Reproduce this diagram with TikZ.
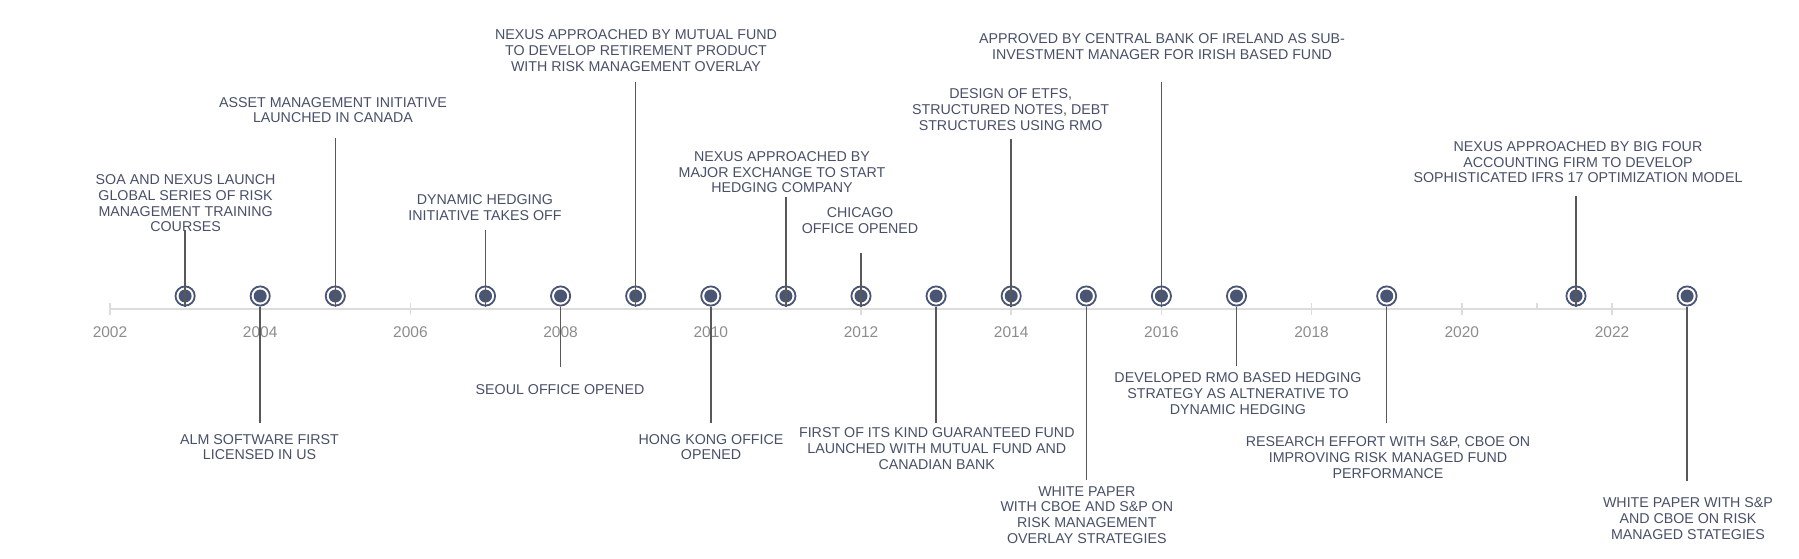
\documentclass[tikz,border=0pt]{standalone}
\usepackage{fontspec}
\setmainfont{Liberation Sans}
\definecolor{navy}{RGB}{74,84,115}
\definecolor{txt}{RGB}{72,80,104}
\definecolor{stemgray}{RGB}{88,88,88}
\definecolor{axisgray}{RGB}{220,220,220}
\definecolor{yrgray}{RGB}{140,140,140}
\begin{document}
\begin{tikzpicture}[x=0.5pt,y=-0.5pt,
  evt/.style={font=\fontsize{7.125}{7.9}\selectfont, text=txt, align=center, inner sep=0pt},
  up/.style={evt, anchor=south},
  down/.style={evt, anchor=north},
  yl/.style={font=\fontsize{7.75}{9}\selectfont, text=yrgray, inner sep=0pt},
  dot/.style={circle, draw=navy, line width=0.9pt, fill=white, minimum size=9.6pt, inner sep=0pt,
    path picture={\fill[navy] (path picture bounding box.center) circle (3.25pt);}},
  stem/.style={draw=stemgray, line width=0.75pt},
  axisline/.style={draw=axisgray, line width=1pt},
  tickline/.style={draw=axisgray, line width=0.8pt}]
\useasboundingbox (0,0) rectangle (1799,558);

% axis
\coordinate (A0) at (110,309);
\coordinate (A1) at (1687.1,309);
\draw[axisline] (A0) -- (A1);
\foreach \yr/\xx in {2002/110,2004/260.2,2006/410.4,2008/560.6,2010/710.8,2012/861.0,2014/1011.2,2016/1161.4,2018/1311.6,2020/1461.8,2022/1612.0}{
  \draw[tickline] (\xx,303) -- (\xx,315);
  \node[yl] (Y\yr) at (\xx,331.7) {\yr};
}
\draw[tickline] (1536.9,303) -- (1536.9,309);

% event markers
\node[dot] (D03) at (185.1,296) {};
\node[dot] (D04) at (260.2,296) {};
\node[dot] (D05) at (335.3,296) {};
\node[dot] (D07) at (485.5,296) {};
\node[dot] (D08) at (560.6,296) {};
\node[dot] (D09) at (635.7,296) {};
\node[dot] (D10) at (710.8,296) {};
\node[dot] (D11) at (785.9,296) {};
\node[dot] (D12) at (861.0,296) {};
\node[dot] (D13) at (936.1,296) {};
\node[dot] (D14) at (1011.2,296) {};
\node[dot] (D15) at (1086.3,296) {};
\node[dot] (D16) at (1161.4,296) {};
\node[dot] (D17) at (1236.5,296) {};
\node[dot] (D19) at (1386.7,296) {};
\node[dot] (D21) at (1576,296) {};
\node[dot] (D23) at (1687.1,296) {};

% stem ends
\coordinate (S03) at (185.1,230);
\coordinate (S05) at (335.3,138.3);
\coordinate (S07) at (485.5,230);
\coordinate (S09) at (635.7,81.7);
\coordinate (S11) at (785.9,196.7);
\coordinate (S12) at (861.0,252.7);
\coordinate (S14) at (1011.2,139.3);
\coordinate (S16) at (1161.4,81.7);
\coordinate (S21) at (1576,196);
\coordinate (S04) at (260.2,423.3);
\coordinate (S08) at (560.6,366.7);
\coordinate (S10) at (710.8,423.3);
\coordinate (S13) at (936.1,423.3);
\coordinate (S15) at (1086.3,480);
\coordinate (S17) at (1236.5,366);
\coordinate (S19) at (1386.7,423.3);
\coordinate (S23) at (1687.1,480.7);

% stems
\foreach \k in {03,05,07,09,11,12,14,16,21,04,08,10,13,15,17,19,23}{
  \draw[stem] (D\k.south) -- (S\k);
}

% labels above
\node[up] (L03) at (185.6,232.4) {SOA AND NEXUS LAUNCH\\GLOBAL SERIES OF RISK\\MANAGEMENT TRAINING\\COURSES};
\node[up] (L05) at (333,123.4) {ASSET MANAGEMENT INITIATIVE\\LAUNCHED IN CANADA};
\node[up] (L07) at (485,220.8) {DYNAMIC HEDGING\\INITIATIVE TAKES OFF};
\node[up] (L09) at (636,71.8) {NEXUS APPROACHED BY MUTUAL FUND\\TO DEVELOP RETIREMENT PRODUCT\\WITH RISK MANAGEMENT OVERLAY};
\node[up] (L11) at (782,193.4) {NEXUS APPROACHED BY\\MAJOR EXCHANGE TO START\\HEDGING COMPANY};
\node[up] (L12) at (860,234.1) {CHICAGO\\OFFICE OPENED};
\node[up] (L14) at (1010.6,130.8) {DESIGN OF ETFS,\\STRUCTURED NOTES, DEBT\\STRUCTURES USING RMO};
\node[up] (L16) at (1162,60.1) {APPROVED BY CENTRAL BANK OF IRELAND AS SUB-\\INVESTMENT MANAGER FOR IRISH BASED FUND};
\node[up] (L21) at (1578,183.4) {NEXUS APPROACHED BY BIG FOUR\\ACCOUNTING FIRM TO DEVELOP\\SOPHISTICATED IFRS 17 OPTIMIZATION MODEL};

% labels below
\node[down] (L04) at (259.5,433.8) {ALM SOFTWARE FIRST\\LICENSED IN US};
\node[down] (L08) at (560,384.1) {SEOUL OFFICE OPENED};
\node[down] (L10) at (711,433.8) {HONG KONG OFFICE\\OPENED};
\node[down] (L13) at (936.8,427.5) {FIRST OF ITS KIND GUARANTEED FUND\\LAUNCHED WITH MUTUAL FUND AND\\CANADIAN BANK};
\node[down] (L15) at (1086.8,485.8) {WHITE PAPER\\WITH CBOE AND S\&P ON\\RISK MANAGEMENT\\OVERLAY STRATEGIES};
\node[down] (L17) at (1238,372.1) {DEVELOPED RMO BASED HEDGING\\STRATEGY AS ALTNERATIVE TO\\DYNAMIC HEDGING};
\node[down] (L19) at (1388,436.5) {RESEARCH EFFORT WITH S\&P, CBOE ON\\IMPROVING RISK MANAGED FUND\\PERFORMANCE};
\node[down] (L23) at (1688,497.5) {WHITE PAPER WITH S\&P\\AND CBOE ON RISK\\MANAGED STATEGIES};
\end{tikzpicture}
\end{document}
